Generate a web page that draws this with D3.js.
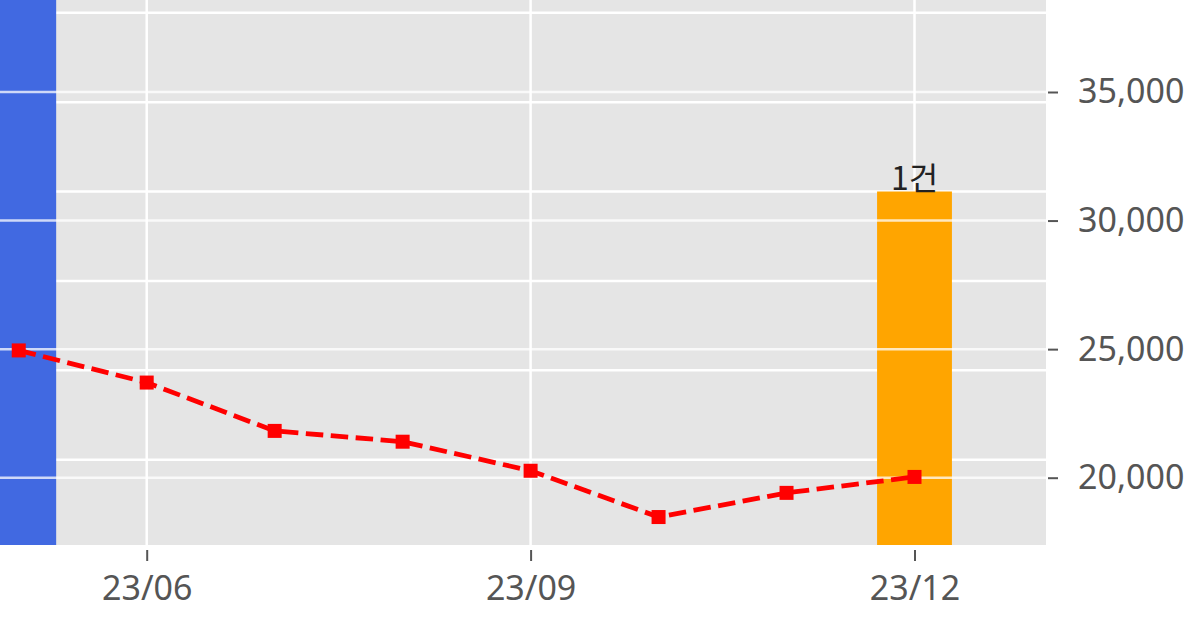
<!DOCTYPE html>
<html>
<head>
<meta charset="utf-8">
<script src="https://cdn.jsdelivr.net/npm/d3@7"></script>
<style>
  body { margin: 0; background: #fff; }
  svg { display: block; }
</style>
</head>
<body>
<div id="chart"></div>
<script>
// months shown on the x axis (index 0 = 23/05)
const months = ["23/05", "23/06", "23/07", "23/08", "23/09", "23/10", "23/11", "23/12"];
const tickMonths = ["23/06", "23/09", "23/12"];

// price line (right axis)
const prices = [24950, 23700, 21820, 21400, 20270, 18470, 19410, 20030];

// report-count bars (hidden left axis)
const barMonths = ["23/05", "23/12"];
const barCounts = [2, 1];
const barColors = ["#4169e1", "#ffa500"];
const countTicks = [0.25, 0.5, 0.75, 1, 1.25, 1.5];

const width = 1200, height = 630;
const plotW = 1046, plotH = 545;

const svg = d3.select("#chart")
  .append("svg")
  .attr("width", width)
  .attr("height", height)
  .attr("font-family", "'Noto Sans CJK KR', 'Noto Sans', sans-serif");

// month index -> px (23/06 at 146.7, 23/12 at 914.5)
const x = d3.scaleLinear().domain([1, 7]).range([146.7, 914.5]);
const xi = m => months.indexOf(m);

// hidden count axis: 0 near the bottom edge, 1 at ~191
const yCount = d3.scaleLinear().domain([0, 1]).range([549, 191.5]);

// price axis
const yPrice0 = d3.scaleLinear().domain([20000, 35000]).range([477.7, 92]);
const yPrice = d3.scaleLinear()
  .domain([yPrice0.invert(plotH), yPrice0.invert(0)])
  .range([plotH, 0]);

svg.append("clipPath").attr("id", "plot-clip")
  .append("rect").attr("width", plotW).attr("height", plotH);

const plot = svg.append("g").attr("clip-path", "url(#plot-clip)");

plot.append("rect")
  .attr("width", plotW)
  .attr("height", plotH)
  .attr("fill", "#e5e5e5");

// count gridlines (behind bars)
plot.selectAll(".cgrid")
  .data(countTicks)
  .join("line")
  .attr("x1", 0).attr("x2", plotW)
  .attr("y1", d => yCount(d)).attr("y2", d => yCount(d))
  .attr("stroke", "#fff")
  .attr("stroke-width", 2.5);

// vertical gridlines
plot.selectAll(".xgrid")
  .data(tickMonths)
  .join("line")
  .attr("x1", d => x(xi(d))).attr("x2", d => x(xi(d)))
  .attr("y1", 0).attr("y2", plotH)
  .attr("stroke", "#fff")
  .attr("stroke-width", 2.5);

// bars
const barW = (x(1) - x(0)) * 0.585;
plot.selectAll(".bar")
  .data(barMonths)
  .join("rect")
  .attr("x", d => x(xi(d)) - barW / 2)
  .attr("width", barW)
  .attr("y", (d, i) => yCount(barCounts[i]))
  .attr("height", (d, i) => yCount(0) - yCount(barCounts[i]))
  .attr("fill", (d, i) => barColors[i]);

// count labels, only where the bar top is inside the cropped plot
const labelled = barMonths
  .map((m, i) => ({ m, n: barCounts[i] }))
  .filter(d => yCount(d.n) > 40);

plot.selectAll(".barlabel")
  .data(labelled)
  .join("text")
  .attr("x", d => x(xi(d.m)))
  .attr("y", d => yCount(d.n) - 2)
  .attr("text-anchor", "middle")
  .attr("font-size", 32)
  .attr("fill", "#222")
  .text(d => `${d.n}건`);

// price gridlines (on top of bars)
const priceTicks = yPrice.ticks(5);
plot.selectAll(".pgrid")
  .data(priceTicks)
  .join("line")
  .attr("x1", 0).attr("x2", plotW)
  .attr("y1", d => yPrice(d)).attr("y2", d => yPrice(d))
  .attr("stroke", "#fff")
  .attr("stroke-opacity", 0.75)
  .attr("stroke-width", 2.5);

// price line
const line = d3.line()
  .x((d, i) => x(i))
  .y(d => yPrice(d));

plot.append("path")
  .datum(prices)
  .attr("d", line)
  .attr("fill", "none")
  .attr("stroke", "#f00")
  .attr("stroke-width", 4.8)
  .attr("stroke-dasharray", "17.5,7.5");

const mk = 14;
plot.selectAll(".marker")
  .data(prices)
  .join("rect")
  .attr("x", (d, i) => x(i) - mk / 2)
  .attr("y", d => yPrice(d) - mk / 2)
  .attr("width", mk)
  .attr("height", mk)
  .attr("fill", "#f00");

// right axis
const yAxis = svg.append("g")
  .attr("transform", `translate(${plotW + 2},0)`)
  .call(d3.axisRight(yPrice).ticks(5).tickFormat(d3.format(",")).tickSize(10).tickPadding(20));

// bottom axis
const xAxis = svg.append("g")
  .attr("transform", `translate(0,${plotH + 5})`)
  .call(d3.axisBottom(x)
    .tickValues(tickMonths.map(xi))
    .tickFormat(i => months[i])
    .tickSize(11)
    .tickPadding(15));

[yAxis, xAxis].forEach(ax => {
  ax.select(".domain").remove();
  ax.selectAll(".tick line").attr("stroke", "#555").attr("stroke-width", 2);
  ax.selectAll(".tick text")
    .attr("fill", "#555")
    .attr("font-size", 34)
    .attr("font-family", "'Noto Sans', sans-serif");
});
</script>
</body>
</html>
